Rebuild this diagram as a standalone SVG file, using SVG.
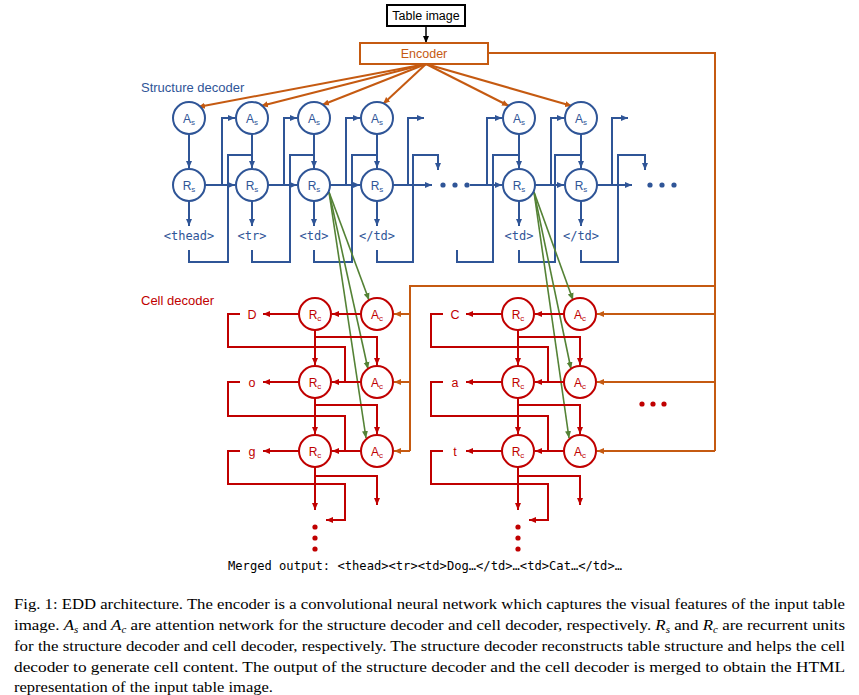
<svg xmlns="http://www.w3.org/2000/svg" width="859" height="695" viewBox="0 0 859 695">
<style>
.b{stroke:#2F5597;stroke-width:2;fill:none}
.r{stroke:#C00000;stroke-width:2;fill:none}
.o{stroke:#C55A11;stroke-width:2;fill:none}
.g{stroke:#548235;stroke-width:1.6;fill:none}
.bc{stroke:#2F5597;stroke-width:2;fill:#fff}
.rc{stroke:#C00000;stroke-width:2;fill:#fff}
.ab{marker-end:url(#mb)}.ar{marker-end:url(#mr)}.ao{marker-end:url(#mo)}.ag{marker-end:url(#mg)}
.sf{font-family:'Liberation Sans','Open Sans',sans-serif}
.mono{font-family:'DejaVu Sans Mono','Liberation Mono',monospace;font-size:12px}
.nb{fill:#2F5597;font-size:12px;text-anchor:middle}
.nr{fill:#C00000;font-size:12px;text-anchor:middle}
.cap{font-family:'Liberation Serif',serif;font-size:15.5px;fill:#000}
</style>
<defs>
<marker id="mb" markerUnits="userSpaceOnUse" markerWidth="8" markerHeight="8" refX="7" refY="4" orient="auto"><path d="M0,1 L7,4 L0,7 z" fill="#2F5597"/></marker>
<marker id="mr" markerUnits="userSpaceOnUse" markerWidth="8" markerHeight="8" refX="7" refY="4" orient="auto"><path d="M0,1 L7,4 L0,7 z" fill="#C00000"/></marker>
<marker id="mo" markerUnits="userSpaceOnUse" markerWidth="8" markerHeight="8" refX="7" refY="4" orient="auto"><path d="M0,1 L7,4 L0,7 z" fill="#C55A11"/></marker>
<marker id="mg" markerUnits="userSpaceOnUse" markerWidth="8" markerHeight="8" refX="7" refY="4" orient="auto"><path d="M0,1 L7,4 L0,7 z" fill="#548235"/></marker>
<marker id="mk" markerUnits="userSpaceOnUse" markerWidth="8" markerHeight="8" refX="7" refY="4" orient="auto"><path d="M0,1 L7,4 L0,7 z" fill="#000"/></marker>
</defs>
<rect width="859" height="695" fill="#fff"/>

<g id="connectors">
<path d="M426,26 V43" stroke="#000" stroke-width="1.5" marker-end="url(#mk)"/>
<path class="o ao" d="M426,64 L198,107"/>
<path class="o ao" d="M426,64 L261,106"/>
<path class="o ao" d="M426,64 L322,105"/>
<path class="o ao" d="M426,64 L383,104"/>
<path class="o ao" d="M426,64 L509,106"/>
<path class="o ao" d="M426,64 L572,106"/>
<path class="o" d="M488,53 H715 V451 M715,286 H410 V451"/>
<path class="o ao" d="M410,314 H394"/><path class="o ao" d="M410,382 H394"/><path class="o ao" d="M410,451 H394"/>
<path class="o ao" d="M715,314 H597"/><path class="o ao" d="M715,382 H597"/><path class="o ao" d="M715,451 H597"/>
<!-- structure: As->Rs -->
<path class="b ab" d="M189,134 V168"/><path class="b ab" d="M252,134 V168"/><path class="b ab" d="M314,134 V168"/>
<path class="b ab" d="M377,134 V168"/><path class="b ab" d="M519,134 V168"/><path class="b ab" d="M581,134 V168"/>
<!-- Rs->out -->
<path class="b ab" d="M189,201 V226"/><path class="b ab" d="M252,201 V226"/><path class="b ab" d="M314,201 V226"/>
<path class="b ab" d="M377,201 V226"/><path class="b ab" d="M519,201 V226"/><path class="b ab" d="M581,201 V226"/>
<!-- Rs->Rs -->
<path class="b ab" d="M205,185 H235"/><path class="b ab" d="M268,185 H297"/><path class="b ab" d="M330,185 H360"/>
<path class="b ab" d="M393,185 H432"/><path class="b ab" d="M470,185 H502"/><path class="b ab" d="M535,185 H564"/><path class="b ab" d="M597,185 H632"/>
<!-- Rs->next As -->
<path class="b ab" d="M222,185 V118 H235"/><path class="b ab" d="M284,185 V118 H297"/><path class="b ab" d="M346,185 V118 H360"/>
<path class="b ab" d="M408,185 V118 H424"/><path class="b ab" d="M487,185 V118 H502"/><path class="b ab" d="M551,185 V118 H564"/><path class="b ab" d="M612,185 V118 H628"/>
<!-- output feedback -->
<path class="b" d="M189,250 V262 H228 V155 H252"/><path class="b" d="M252,250 V262 H290 V155 H314"/>
<path class="b" d="M314,250 V262 H352 V155 H377"/><path class="b" d="M519,250 V262 H555 V155 H581"/>
<path class="b" d="M457,250 V262 H493 V155 H519"/>
<path class="b ab" d="M377,250 V262 H413 V155 H438 V170"/><path class="b ab" d="M581,250 V262 H618 V155 H645 V170"/>
<g fill="#2F5597"><circle cx="443" cy="185" r="2.6"/><circle cx="455" cy="185" r="2.6"/><circle cx="467" cy="185" r="2.6"/><circle cx="650" cy="185" r="2.6"/><circle cx="662" cy="185" r="2.6"/><circle cx="674" cy="185" r="2.6"/></g>
<!-- green -->
<path class="g ag" d="M329,192 L369,300"/><path class="g ag" d="M329,192 L368,369"/><path class="g ag" d="M329,192 L366,438"/>
<path class="g ag" d="M534,192 L573,300"/><path class="g ag" d="M534,192 L571,369"/><path class="g ag" d="M534,192 L569,438"/>
<!-- cell left -->
<path class="r ar" d="M361,314 H332"/><path class="r ar" d="M361,382 H332"/><path class="r ar" d="M361,451 H332"/>
<path class="r ar" d="M299,314 H263"/><path class="r ar" d="M299,382 H263"/><path class="r ar" d="M299,451 H263"/>
<path class="r ar" d="M315,330 V365"/><path class="r ar" d="M315,337 H377 V365"/>
<path class="r ar" d="M315,398 V434"/><path class="r ar" d="M315,405 H377 V434"/>
<path class="r ar" d="M315,467 V510"/><path class="r ar" d="M315,476 H377 V505"/>
<path class="r" d="M240,314 H228 V347 H345 V382"/><path class="r" d="M240,382 H228 V416 H345 V451"/>
<path class="r ar" d="M240,451 H228 V484 H345 V520 H326"/>
<!-- cell right -->
<path class="r ar" d="M564,314 H535"/><path class="r ar" d="M564,382 H535"/><path class="r ar" d="M564,451 H535"/>
<path class="r ar" d="M502,314 H466"/><path class="r ar" d="M502,382 H466"/><path class="r ar" d="M502,451 H466"/>
<path class="r ar" d="M518,330 V365"/><path class="r ar" d="M518,337 H580 V365"/>
<path class="r ar" d="M518,398 V434"/><path class="r ar" d="M518,405 H580 V434"/>
<path class="r ar" d="M518,467 V510"/><path class="r ar" d="M518,476 H580 V505"/>
<path class="r" d="M443,314 H431 V347 H548 V382"/><path class="r" d="M443,382 H431 V416 H548 V451"/>
<path class="r ar" d="M443,451 H431 V484 H548 V520 H529"/>
<g fill="#C00000"><circle cx="315" cy="527" r="2.6"/><circle cx="315" cy="538" r="2.6"/><circle cx="315" cy="549" r="2.6"/><circle cx="518" cy="527" r="2.6"/><circle cx="518" cy="538" r="2.6"/><circle cx="518" cy="549" r="2.6"/><circle cx="642" cy="404" r="2.6"/><circle cx="653" cy="404" r="2.6"/><circle cx="664" cy="404" r="2.6"/></g>
</g>

<g id="table-image"><rect x="387" y="5" width="78" height="21" fill="#fff" stroke="#000" stroke-width="2"/><text x="426" y="20" class="sf" font-size="12.5" text-anchor="middle">Table image</text></g>
<g id="encoder"><rect x="360" y="43" width="128" height="21" fill="#fff" stroke="#C55A11" stroke-width="2"/><text x="424" y="58" class="sf" font-size="12.5" fill="#C55A11" text-anchor="middle">Encoder</text></g>
<text x="141" y="92" class="sf" font-size="13" fill="#2F5597">Structure decoder</text>
<text x="141" y="305" class="sf" font-size="13" fill="#C00000">Cell decoder</text>

<g id="As1"><circle class="bc" cx="189" cy="118" r="16"/><text x="189" y="123" class="sf nb">A<tspan font-size="8" dy="2">s</tspan></text></g>
<g id="As2"><circle class="bc" cx="252" cy="118" r="16"/><text x="252" y="123" class="sf nb">A<tspan font-size="8" dy="2">s</tspan></text></g>
<g id="As3"><circle class="bc" cx="314" cy="118" r="16"/><text x="314" y="123" class="sf nb">A<tspan font-size="8" dy="2">s</tspan></text></g>
<g id="As4"><circle class="bc" cx="377" cy="118" r="16"/><text x="377" y="123" class="sf nb">A<tspan font-size="8" dy="2">s</tspan></text></g>
<g id="As5"><circle class="bc" cx="519" cy="118" r="16"/><text x="519" y="123" class="sf nb">A<tspan font-size="8" dy="2">s</tspan></text></g>
<g id="As6"><circle class="bc" cx="581" cy="118" r="16"/><text x="581" y="123" class="sf nb">A<tspan font-size="8" dy="2">s</tspan></text></g>
<g id="Rs1"><circle class="bc" cx="189" cy="185" r="16"/><text x="189" y="190" class="sf nb">R<tspan font-size="8" dy="2">s</tspan></text></g>
<g id="Rs2"><circle class="bc" cx="252" cy="185" r="16"/><text x="252" y="190" class="sf nb">R<tspan font-size="8" dy="2">s</tspan></text></g>
<g id="Rs3"><circle class="bc" cx="314" cy="185" r="16"/><text x="314" y="190" class="sf nb">R<tspan font-size="8" dy="2">s</tspan></text></g>
<g id="Rs4"><circle class="bc" cx="377" cy="185" r="16"/><text x="377" y="190" class="sf nb">R<tspan font-size="8" dy="2">s</tspan></text></g>
<g id="Rs5"><circle class="bc" cx="519" cy="185" r="16"/><text x="519" y="190" class="sf nb">R<tspan font-size="8" dy="2">s</tspan></text></g>
<g id="Rs6"><circle class="bc" cx="581" cy="185" r="16"/><text x="581" y="190" class="sf nb">R<tspan font-size="8" dy="2">s</tspan></text></g>
<g id="out-struct" fill="#2F5597" text-anchor="middle">
<text x="189" y="240" class="mono">&lt;thead&gt;</text>
<text x="252" y="240" class="mono">&lt;tr&gt;</text>
<text x="314" y="240" class="mono">&lt;td&gt;</text>
<text x="377" y="240" class="mono">&lt;/td&gt;</text>
<text x="519" y="240" class="mono">&lt;td&gt;</text>
<text x="581" y="240" class="mono">&lt;/td&gt;</text>
</g>

<g id="Rc-left">
<circle class="rc" cx="315" cy="314" r="16"/><text x="315" y="319" class="sf nr">R<tspan font-size="8" dy="2">c</tspan></text>
<circle class="rc" cx="315" cy="382" r="16"/><text x="315" y="387" class="sf nr">R<tspan font-size="8" dy="2">c</tspan></text>
<circle class="rc" cx="315" cy="451" r="16"/><text x="315" y="456" class="sf nr">R<tspan font-size="8" dy="2">c</tspan></text>
</g>
<g id="Ac-left">
<circle class="rc" cx="377" cy="314" r="16"/><text x="377" y="319" class="sf nr">A<tspan font-size="8" dy="2">c</tspan></text>
<circle class="rc" cx="377" cy="382" r="16"/><text x="377" y="387" class="sf nr">A<tspan font-size="8" dy="2">c</tspan></text>
<circle class="rc" cx="377" cy="451" r="16"/><text x="377" y="456" class="sf nr">A<tspan font-size="8" dy="2">c</tspan></text>
</g>
<g id="Rc-right">
<circle class="rc" cx="518" cy="314" r="16"/><text x="518" y="319" class="sf nr">R<tspan font-size="8" dy="2">c</tspan></text>
<circle class="rc" cx="518" cy="382" r="16"/><text x="518" y="387" class="sf nr">R<tspan font-size="8" dy="2">c</tspan></text>
<circle class="rc" cx="518" cy="451" r="16"/><text x="518" y="456" class="sf nr">R<tspan font-size="8" dy="2">c</tspan></text>
</g>
<g id="Ac-right">
<circle class="rc" cx="580" cy="314" r="16"/><text x="580" y="319" class="sf nr">A<tspan font-size="8" dy="2">c</tspan></text>
<circle class="rc" cx="580" cy="382" r="16"/><text x="580" y="387" class="sf nr">A<tspan font-size="8" dy="2">c</tspan></text>
<circle class="rc" cx="580" cy="451" r="16"/><text x="580" y="456" class="sf nr">A<tspan font-size="8" dy="2">c</tspan></text>
</g>
<g id="out-cell" class="sf" font-size="12.5" fill="#C00000" text-anchor="middle">
<text x="252" y="319">D</text><text x="252" y="387">o</text><text x="252" y="456">g</text>
<text x="455" y="319">C</text><text x="455" y="387">a</text><text x="455" y="456">t</text>
</g>

<text x="228" y="570" font-family="'DejaVu Sans Mono','Liberation Mono',monospace" font-size="11.5" textLength="394" lengthAdjust="spacingAndGlyphs">Merged output: &lt;thead&gt;&lt;tr&gt;&lt;td&gt;Dog…&lt;/td&gt;…&lt;td&gt;Cat…&lt;/td&gt;…</text>

<g id="caption" class="cap">
<text x="14" y="609" textLength="831" lengthAdjust="spacingAndGlyphs">Fig. 1: EDD architecture. The encoder is a convolutional neural network which captures the visual features of the input table</text>
<text x="14" y="630" textLength="831" lengthAdjust="spacingAndGlyphs">image. <tspan font-style="italic">A</tspan><tspan font-style="italic" font-size="10" dy="3">s</tspan><tspan dy="-3"> and </tspan><tspan font-style="italic">A</tspan><tspan font-style="italic" font-size="10" dy="3">c</tspan><tspan dy="-3"> are attention network for the structure decoder and cell decoder, respectively. </tspan><tspan font-style="italic">R</tspan><tspan font-style="italic" font-size="10" dy="3">s</tspan><tspan dy="-3"> and </tspan><tspan font-style="italic">R</tspan><tspan font-style="italic" font-size="10" dy="3">c</tspan><tspan dy="-3"> are recurrent units</tspan></text>
<text x="14" y="651" textLength="831" lengthAdjust="spacingAndGlyphs">for the structure decoder and cell decoder, respectively. The structure decoder reconstructs table structure and helps the cell</text>
<text x="14" y="672" textLength="831" lengthAdjust="spacingAndGlyphs">decoder to generate cell content. The output of the structure decoder and the cell decoder is merged to obtain the HTML</text>
<text x="14" y="692" textLength="259" lengthAdjust="spacingAndGlyphs">representation of the input table image.</text>
</g>
</svg>
